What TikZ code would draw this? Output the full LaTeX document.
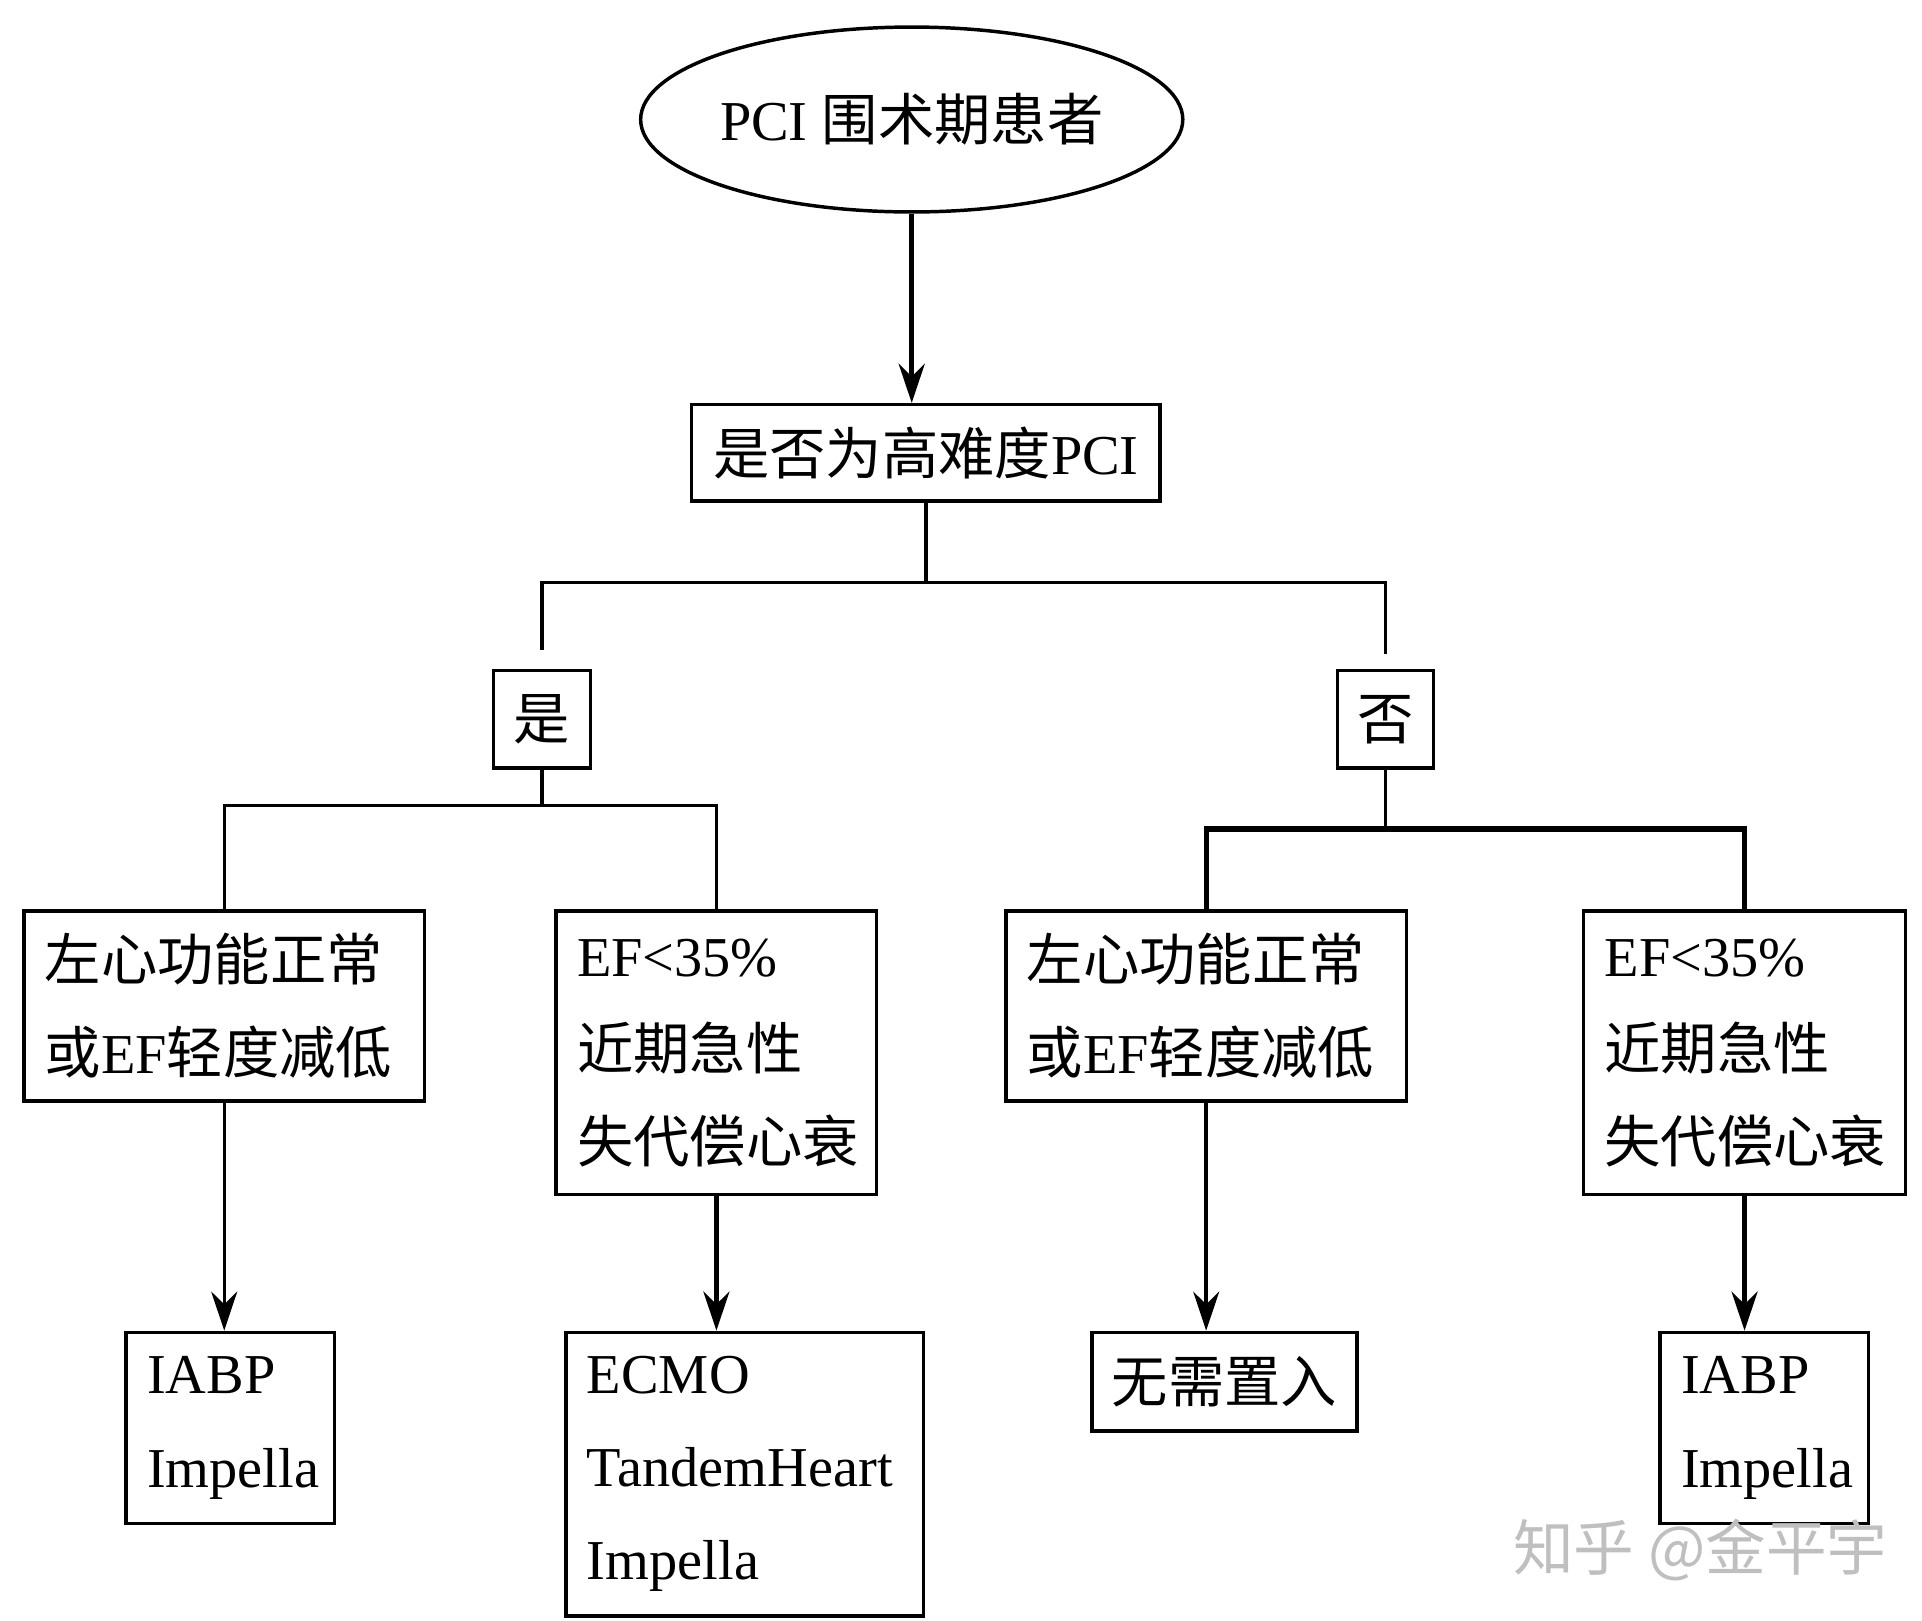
\documentclass[tikz,border=0pt]{standalone}
\usepackage{fontspec}
\setmainfont{Liberation Serif}
\newfontfamily\cjk{Noto Sans CJK SC}
\usetikzlibrary{shapes.geometric,arrows.meta}
\tikzset{
  box/.style={draw,thick,rectangle,anchor=north west,inner xsep=1.7mm,inner ysep=0pt,align=left,
    font=\fontsize{13}{21.5}\selectfont},
  arr/.style={-{Stealth[length=9pt,width=6pt]},thick},
}
\begin{document}
\begin{tikzpicture}[x=0.01cm,y=-0.01cm]
    \useasboundingbox (0,0) rectangle (1560,1315);
    % start
    \node[draw,thick,ellipse,inner sep=0pt,minimum width=4.06cm,minimum height=1.5cm,
      font=\fontsize{13}{21.5}\selectfont] (pat) at (740,97) {PCI {\cjk 围术期患者}};
    \node[box,minimum width=3.8cm,minimum height=0.78cm,align=center,inner xsep=0pt] (q) at (560,327) {{\cjk 是否为高难度}PCI};
    \node[box,minimum width=0.79cm,minimum height=0.79cm,align=center,inner xsep=0pt] (yes) at (399,543) {\cjk 是};
    \node[box,minimum width=0.78cm,minimum height=0.79cm,align=center,inner xsep=0pt] (no) at (1084,543) {\cjk 否};
    % conditions
    \node[box,minimum width=3.25cm,minimum height=1.54cm,text width=2.91cm] (a) at (18,738)
      {{\cjk 左心功能正常}\\{\cjk 或}EF{\cjk 轻度减低}};
    \node[box,minimum width=2.6cm,minimum height=2.3cm,text width=2.26cm] (b) at (450,738)
      {EF<35\%\\{\cjk 近期急性}\\{\cjk 失代偿心衰}};
    \node[box,minimum width=3.25cm,minimum height=1.54cm,text width=2.91cm] (c) at (815,738)
      {{\cjk 左心功能正常}\\{\cjk 或}EF{\cjk 轻度减低}};
    \node[box,minimum width=2.61cm,minimum height=2.3cm,text width=2.27cm] (d) at (1284,738)
      {EF<35\%\\{\cjk 近期急性}\\{\cjk 失代偿心衰}};
    % devices
    \node[box,minimum width=1.69cm,minimum height=1.55cm,text width=1.35cm] (e) at (101,1080)
      {IABP\\Impella};
    \node[box,minimum width=2.9cm,minimum height=2.3cm,text width=2.56cm] (f) at (458,1080)
      {ECMO\\TandemHeart\\Impella};
    \node[box,minimum width=2.15cm,minimum height=0.8cm,align=center,inner xsep=0pt] (g) at (885,1080)
      {\cjk 无需置入};
    \node[box,minimum width=1.69cm,minimum height=1.55cm,text width=1.35cm] (h) at (1346,1080)
      {IABP\\Impella};
    % watermark
    \node[text=black!25,font=\fontsize{14}{16}\selectfont\cjk] (wm) at (1380,1258) {知乎 @金平宇};
    % connectors
    \draw[arr,line width=1.2pt] (pat.south) -- (pat.south |- q.north);
    \draw[thick] (q.south) -- ++(0,65) coordinate (qm);
    \draw[thick] ([yshift=4.5pt]yes.north) |- (qm) -| ([yshift=3.5pt]no.north);
    \draw[thick] (yes.south) -- ++(0,29) coordinate (ym);
    \draw[thick] (a.north) |- (ym) -| (b.north);
    \draw[thick] (no.south) -- ++(0,48) coordinate (nm);
    \draw[line width=1.2pt] (c.north) |- (nm) -| (d.north);
    \draw[arr] (a.south) -- (a.south |- e.north);
    \draw[arr,line width=1.2pt] (b.south) -- (b.south |- f.north);
    \draw[arr] (c.south) -- (c.south |- g.north);
    \draw[arr,line width=1.2pt] (d.south) -- (d.south |- h.north);
\end{tikzpicture}
\end{document}
